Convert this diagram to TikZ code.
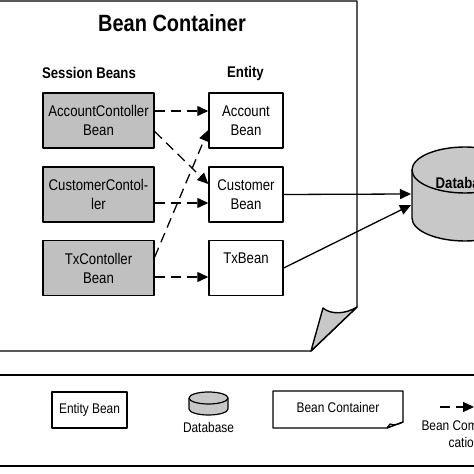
\documentclass[tikz,border=0pt]{standalone}
\usepackage{fontspec}
\setmainfont{Liberation Sans}[FakeStretch=0.85]
\usetikzlibrary{arrows.meta,positioning}
\definecolor{boxgray}{RGB}{192,192,192}
\definecolor{dbgray}{RGB}{200,200,200}

\begin{document}
\begin{tikzpicture}[x=1pt,y=1pt,line join=round,
  ctrl/.style={draw,line width=1.4pt,fill=boxgray,minimum width=111pt,minimum height=55pt,align=center,inner sep=2pt,font=\fontsize{15.5}{19}\selectfont},
  ent/.style={ctrl,fill=white,minimum width=74pt},
  head/.style={font=\fontsize{15.5}{19}\selectfont\bfseries},
  call/.style={line width=1.3pt,dash pattern=on 10pt off 6pt,-{Triangle[length=11pt,width=10pt]}},
  feed/.style={line width=1.3pt,-{Triangle[length=11pt,width=10pt]}},
  legtext/.style={font=\fontsize{14}{17}\selectfont,align=center}]
\useasboundingbox (0,0) rectangle (474,474);
%bean container sheet, curled corner
\draw[line width=1.4pt,fill=white] (-10,473) -- (357,473) -- (357,167) -- (311,123) -- (-10,123);
\draw[line width=1.4pt,fill=dbgray] (311,123) -- (323,166) .. controls (331,159) and (346,160) .. (357,167) -- cycle;
\node[font=\fontsize{23.5}{28}\selectfont\bfseries] (title) at (172,451) {Bean Container};
%column heads
\node[head] (sessHead) at (89,401) {Session Beans};
\node[head] (entHead) at (245.5,401) {Entity};
%session beans
\node[ctrl] (acctCtrl) at (98.5,353.5) {AccountContoller\\Bean};
\node[ctrl] (custCtrl) at (98.5,279.5) {CustomerContol-\\ler};
\node[ctrl] (txCtrl) at (98.5,206) {TxContoller\\Bean};
%entity beans
\node[ent] (acctBean) at (246,353.5) {Account\\Bean};
\node[ent] (custBean) at (246,279.5) {Customer\\Bean};
\node[ent] (txBean) at (246,206) {TxBean\\\phantom{Bean}};
%bean communication
\draw[call] ([yshift=9.5pt]acctCtrl.east) -- ([yshift=9.5pt]acctBean.west);
\draw[call] ([yshift=-11pt]acctCtrl.east) -- ([yshift=10.5pt]custBean.west);
\draw[call] ([yshift=11pt]txCtrl.east) -- ([yshift=-9.5pt]acctBean.west);
\draw[call] ([yshift=-8.5pt]custCtrl.east) -- ([yshift=-8.5pt]custBean.west);
\draw[call] ([yshift=-9pt]txCtrl.east) -- ([yshift=-9pt]txBean.west);
%database
\draw[line width=1.4pt,fill=dbgray] (412,304) -- (412,256) arc (180:360:53 and 23) -- (518,304);
\draw[line width=1.4pt,fill=dbgray] (465,304) ellipse (53 and 23);
\node[head] (db) at (465,291) {Database};
\coordinate (dbIn1) at (411,280);
\coordinate (dbIn2) at (411,269);
\draw[feed] (custBean.east) -- (dbIn1);
\draw[feed] (txBean.east) -- (dbIn2);
%legend
\draw[line width=1.4pt] (-10,99) -- (484,99);
\draw[line width=1.4pt] (-10,8) -- (484,8);
\node[draw,line width=1.2pt,minimum width=75pt,minimum height=36pt,legtext] (legEnt) at (89.5,64) {Entity Bean};
\draw[line width=1.2pt,fill=dbgray] (189,76) -- (189,65) arc (180:360:19.5 and 6) -- (228,76);
\draw[line width=1.2pt,fill=dbgray] (208.5,76) ellipse (19.5 and 6);
\node[legtext] (legDb) at (208.5,47) {Database};
\draw[line width=1.2pt,fill=white] (273,83) -- (403,83) -- (403,52) -- (387,46) -- (273,46) -- cycle;
\draw[line width=1.2pt,fill=dbgray] (387,46) -- (390,50) .. controls (394,48.5) and (399,49.5) .. (403,52) -- cycle;
\node[legtext] (legDoc) at (338,67) {Bean Container};
\coordinate (legA) at (440,67);
\coordinate (legB) at (474,67);
\draw[call] (legA) -- (legB);
\node[legtext] (legCall) at (464.5,40.5) {Bean Communi-\\cation};
\end{tikzpicture}
\end{document}
